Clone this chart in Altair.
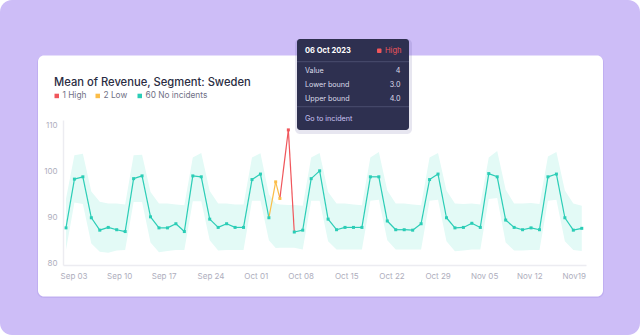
import altair as alt
import pandas as pd

# ---- data ----
# position of each observation along the time axis (one unit = one observation slot)
t_pos = list(range(25)) + [24.8, 25.3, 26.3] + list(range(27, 62))
values = [87.7, 98.3, 98.8, 89.9, 87.2, 87.8, 87.3, 86.9, 98.4, 99.0,
          90.1, 87.7, 87.7, 88.6, 86.9, 99.0, 98.8, 89.6, 87.8, 88.6,
          87.8, 87.8, 98.2, 99.4, 89.9, 97.7, 94.1, 109.0, 86.8, 87.2,
          98.4, 100.1, 89.6, 87.3, 87.8, 87.8, 87.8, 98.8, 98.8, 89.2,
          87.3, 87.3, 87.2, 88.6, 98.2, 99.4, 89.9, 87.7, 87.8, 88.7,
          87.8, 99.5, 98.8, 89.4, 87.8, 87.3, 87.7, 87.3, 98.8, 99.4,
          89.9, 87.2, 87.6]
upper = [94.0, 103.5, 103.8, 95.6, 93.4, 93.0, 93.0, 92.8, 103.5, 103.6,
         95.5, 93.0, 93.0, 92.8, 92.6, 103.0, 104.0, 95.7, 93.0, 93.0,
         92.8, 92.8, 103.0, 103.9, 95.0, 93.0, 92.8, 92.7, 92.7, 92.5,
         103.0, 104.0, 95.5, 93.0, 93.0, 92.8, 92.6, 103.0, 104.2, 95.8,
         93.0, 93.0, 92.8, 92.6, 103.0, 104.0, 95.8, 93.0, 92.9, 93.0,
         92.8, 103.0, 104.4, 96.0, 93.0, 93.0, 93.1, 92.9, 103.2, 104.2,
         95.8, 93.0, 92.5]
lower = [82.9, 93.2, 92.9, 84.3, 82.5, 82.3, 82.8, 82.9, 93.3, 93.3,
         84.5, 82.4, 82.7, 82.9, 82.9, 93.5, 93.5, 85.0, 82.8, 82.9,
         82.9, 82.9, 93.6, 93.6, 85.0, 83.3, 83.4, 83.4, 83.4, 83.0,
         93.6, 93.6, 84.8, 83.0, 83.0, 83.0, 83.0, 93.6, 93.8, 85.0,
         83.0, 83.0, 83.0, 83.0, 93.6, 93.8, 84.8, 82.6, 82.8, 83.0,
         83.0, 94.0, 94.2, 84.5, 82.8, 82.8, 82.9, 82.9, 93.6, 93.8,
         84.8, 82.9, 82.7]
status = (["none"] * 25) + ["low", "low", "high"] + (["none"] * 35)

tick_pos = [0.9, 6.3, 11.55, 17.1, 22.45, 27.75, 33.15, 38.5, 43.95, 49.45, 54.8, 60.05]
tick_labels = ["Sep 03", "Sep 10", "Sep 17", "Sep 24", "Oct 01", "Oct 08",
               "Oct 15", "Oct 22", "Oct 29", "Nov 05", "Nov 12", "Nov19"]
y_ticks = [80, 90, 100, 110]

title_text = "Mean of Revenue, Segment: Sweden"
legend_items = ["1 High", "2 Low", "60 No incidents"]
tooltip_date = "06 Oct 2023"
tooltip_level = "High"
tooltip_rows = ["Value", "Lower bound", "Upper bound"]
tooltip_vals = ["4", "3.0", "4.0"]
tooltip_link = "Go to incident"

# ---- styles ----
TEAL = "#2bcdb6"
BAND = "#e3faf6"
RED = "#f0565b"
ORANGE = "#fbbd48"
PURPLE = "#cdbdf7"
NAVY = "#2e3050"
FONT = "Inter"

df = pd.DataFrame({"t": t_pos, "v": values, "up": upper, "lo": lower, "status": status})

rank = {"none": 0, "low": 1, "high": 2}
seg_rows = []
for i in range(len(t_pos) - 1):
    a, b = status[i], status[i + 1]
    s = a if rank[a] >= rank[b] else b
    seg_rows.append({"t": t_pos[i], "v": values[i], "t2": t_pos[i + 1], "v2": values[i + 1], "status": s})
seg = pd.DataFrame(seg_rows)


def js_key(p):
    return str(int(p)) if float(p).is_integer() else repr(float(p))


label_map = "{" + ",".join(f"'{js_key(p)}':'{l}'" for p, l in zip(tick_pos, tick_labels)) + "}"

xs = alt.Scale(domain=[-0.35, 61.5], nice=False, zero=False)
ys = alt.Scale(domain=[79.63, 111.15], nice=False, zero=False)
cs = alt.Scale(domain=["none", "low", "high"], range=[TEAL, ORANGE, RED])

x_axis = alt.Axis(values=tick_pos, labelExpr=f"{label_map}[toString(datum.value)]",
                  title=None, ticks=False, grid=False, domainColor="#ececf1", domainWidth=1.5,
                  labelColor="#aeaebd", labelFont=FONT, labelFontSize=8, labelPadding=7,
                  labelOverlap=False, labelFlush=False, zindex=1)
y_axis = alt.Axis(values=y_ticks, title=None, ticks=False, grid=False, domainColor="#ececf1",
                  domainWidth=1.5, labelColor="#aeaebd", labelFont=FONT, labelFontSize=8,
                  labelPadding=6, zindex=1)

dummy = pd.DataFrame({"a": [0]})

frame = alt.Chart(dummy).mark_rect(color=PURPLE, cornerRadius=12).encode(
    x=alt.value(-63), x2=alt.value(577), y=alt.value(-120), y2=alt.value(215))
card_shadow = alt.Chart(dummy).mark_rect(color="#9a86e0", opacity=0.25, cornerRadius=7).encode(
    x=alt.value(-26), x2=alt.value(541), y=alt.value(-64), y2=alt.value(178))
card = alt.Chart(dummy).mark_rect(color="white", cornerRadius=6).encode(
    x=alt.value(-25), x2=alt.value(540), y=alt.value(-64.5), y2=alt.value(176.5))

band = alt.Chart(df).mark_area(color=BAND, opacity=1).encode(
    x=alt.X("t:Q", scale=xs, axis=x_axis),
    y=alt.Y("lo:Q", scale=ys, axis=y_axis),
    y2="up:Q")

lines = alt.Chart(seg).mark_rule(strokeWidth=1.2).encode(
    x=alt.X("t:Q", scale=xs), y=alt.Y("v:Q", scale=ys),
    x2="t2:Q", y2="v2:Q",
    color=alt.Color("status:N", scale=cs, legend=None))

points = alt.Chart(df).mark_square(size=9, opacity=1, filled=True).encode(
    x=alt.X("t:Q", scale=xs), y=alt.Y("v:Q", scale=ys),
    color=alt.Color("status:N", scale=cs, legend=None))

title = alt.Chart(dummy).mark_text(text=title_text, align="left", baseline="alphabetic",
                                   font=FONT, fontSize=11.2, fontWeight=500, color="#2a2c42").encode(
    x=alt.value(-9), y=alt.value(-34))

legend_layers = []
leg_x = [-8.5, 32.5, 74.5]
leg_c = [RED, ORANGE, TEAL]
for lx, lc, lt in zip(leg_x, leg_c, legend_items):
    legend_layers.append(alt.Chart(dummy).mark_rect(color=lc).encode(
        x=alt.value(lx), x2=alt.value(lx + 4.5), y=alt.value(-26.3), y2=alt.value(-21.8)))
    legend_layers.append(alt.Chart(dummy).mark_text(text=lt, align="left", baseline="middle",
                                                    font=FONT, fontSize=8.3, color="#6f7085").encode(
        x=alt.value(lx + 8), y=alt.value(-24)))

tt = []
tt.append(alt.Chart(dummy).mark_rect(color="#3a2f80", opacity=0.12, cornerRadius=5).encode(
    x=alt.value(232), x2=alt.value(349), y=alt.value(-81), y2=alt.value(14)))
tt.append(alt.Chart(dummy).mark_rect(color=NAVY, cornerRadius=3).encode(
    x=alt.value(234), x2=alt.value(346), y=alt.value(-81), y2=alt.value(10)))
for sy in [-58.3, -13.3]:
    tt.append(alt.Chart(dummy).mark_rule(color="#4b4d6e", strokeWidth=1).encode(
        x=alt.value(234), x2=alt.value(346), y=alt.value(sy)))
tt.append(alt.Chart(dummy).mark_text(text=tooltip_date, align="left", baseline="middle",
                                     font=FONT, fontSize=7.5, fontWeight="bold", color="white").encode(
    x=alt.value(242), y=alt.value(-69)))
tt.append(alt.Chart(dummy).mark_rect(color=RED, cornerRadius=1).encode(
    x=alt.value(314), x2=alt.value(318.5), y=alt.value(-71.5), y2=alt.value(-67)))
tt.append(alt.Chart(dummy).mark_text(text=tooltip_level, align="left", baseline="middle",
                                     font=FONT, fontSize=7.5, color=RED).encode(
    x=alt.value(322), y=alt.value(-69)))
for ry, rl, rv in zip([-48.7, -35, -21.3], tooltip_rows, tooltip_vals):
    tt.append(alt.Chart(dummy).mark_text(text=rl, align="left", baseline="middle",
                                         font=FONT, fontSize=7.2, color="#dcdcea").encode(
        x=alt.value(242), y=alt.value(ry)))
    tt.append(alt.Chart(dummy).mark_text(text=rv, align="right", baseline="middle",
                                         font=FONT, fontSize=7.2, color="#dcdcea").encode(
        x=alt.value(337.5), y=alt.value(ry)))
tt.append(alt.Chart(dummy).mark_text(text=tooltip_link, align="left", baseline="middle",
                                     font=FONT, fontSize=7.2, color="#cbc3f3").encode(
    x=alt.value(242), y=alt.value(-1)))

chart = alt.layer(frame, card_shadow, card, band, lines, points, title,
                  *legend_layers, *tt).properties(
    width=523, height=145,
    padding={"left": 63, "top": 120, "right": 54, "bottom": 70},
    autosize=alt.AutoSizeParams(type="none"),
    background="white",
).configure_view(stroke=None)

chart.save("out.html", embed_options={"renderer": "svg", "actions": False})
